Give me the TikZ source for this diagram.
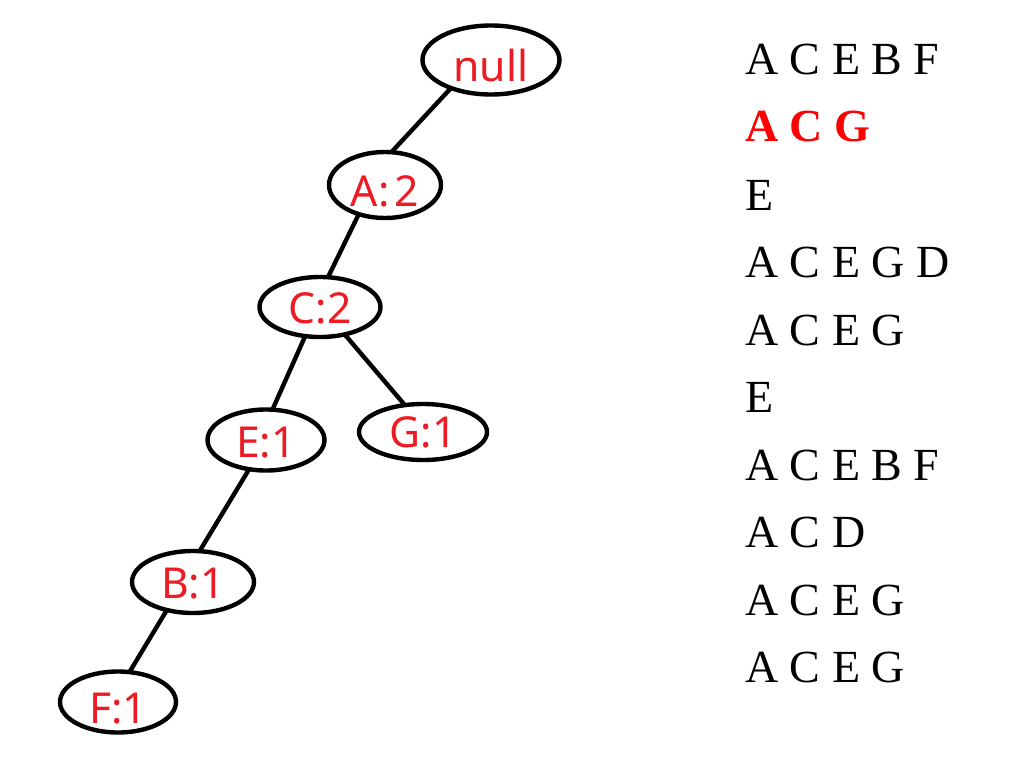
\documentclass[tikz,border=0pt]{standalone}
\usepackage{fontspec}
\setmainfont{Liberation Serif}
\newfontfamily\treefont{Noto Sans}
\usetikzlibrary{shapes.geometric}
\definecolor{treered}{RGB}{237,28,36}
\definecolor{listred}{RGB}{255,0,0}
\tikzset{
  tnode/.style={ellipse, draw=black, line width=3.3pt, inner sep=0pt, outer sep=0pt,
    text=treered, font=\treefont\fontsize{32}{32}\selectfont, text depth=0pt},
  tedge/.style={line width=3.3pt, black},
  item/.style={anchor=base west, inner sep=0pt, font=\fontsize{34.5}{34.5}\selectfont},
  hot/.style={text=listred, font=\fontsize{34.5}{34.5}\selectfont\bfseries},
}
\begin{document}
\begin{tikzpicture}[x=0.75pt, y=-0.75pt]
\useasboundingbox (0,0) rectangle (1030,777);
% tree
\node[tnode, minimum width=102.75pt, minimum height=51.75pt, text height=33pt] (null) at (491,60) {null};
\node[tnode, minimum width=84pt, minimum height=49.5pt, text height=33pt] (A) at (385,185) {A:\kern0.12em2};
\node[tnode, minimum width=90.75pt, minimum height=45pt, text height=24pt] (C) at (320,307) {C:2};
\node[tnode, minimum width=87.75pt, minimum height=45.75pt, text height=25.5pt] (E) at (266,440) {E:1};
\node[tnode, minimum width=96pt, minimum height=42pt, text height=22.5pt] (G) at (423,432) {G:1};
\node[tnode, minimum width=91.5pt, minimum height=46.5pt, text height=24pt] (B) at (193,582) {B:1};
\node[tnode, minimum width=87pt, minimum height=45.75pt, text height=31.5pt] (F) at (118,702) {F:1};
\draw[tedge] (null.215) -- (A.79);
\draw[tedge] (A.228) -- (C.75);
\draw[tedge] (C.243) -- (E.78);
\draw[tedge] (C.312) -- (G.124);
\draw[tedge] (E.240) -- (B.78);
\draw[tedge] (B.227) -- (F.69);
% transactions
\node[item] (t1) at (745,75) {A C E B F};
\node[item, hot] (t2) at (745,142) {A C G};
\node[item] (t3) at (745,210) {E};
\node[item] (t4) at (745,277) {A C E G D};
\node[item] (t5) at (745,345) {A C E G};
\node[item] (t6) at (745,412) {E};
\node[item] (t7) at (745,480) {A C E B F};
\node[item] (t8) at (745,547) {A C D};
\node[item] (t9) at (745,615) {A C E G};
\node[item] (t10) at (745,682) {A C E G};
\end{tikzpicture}
\end{document}
